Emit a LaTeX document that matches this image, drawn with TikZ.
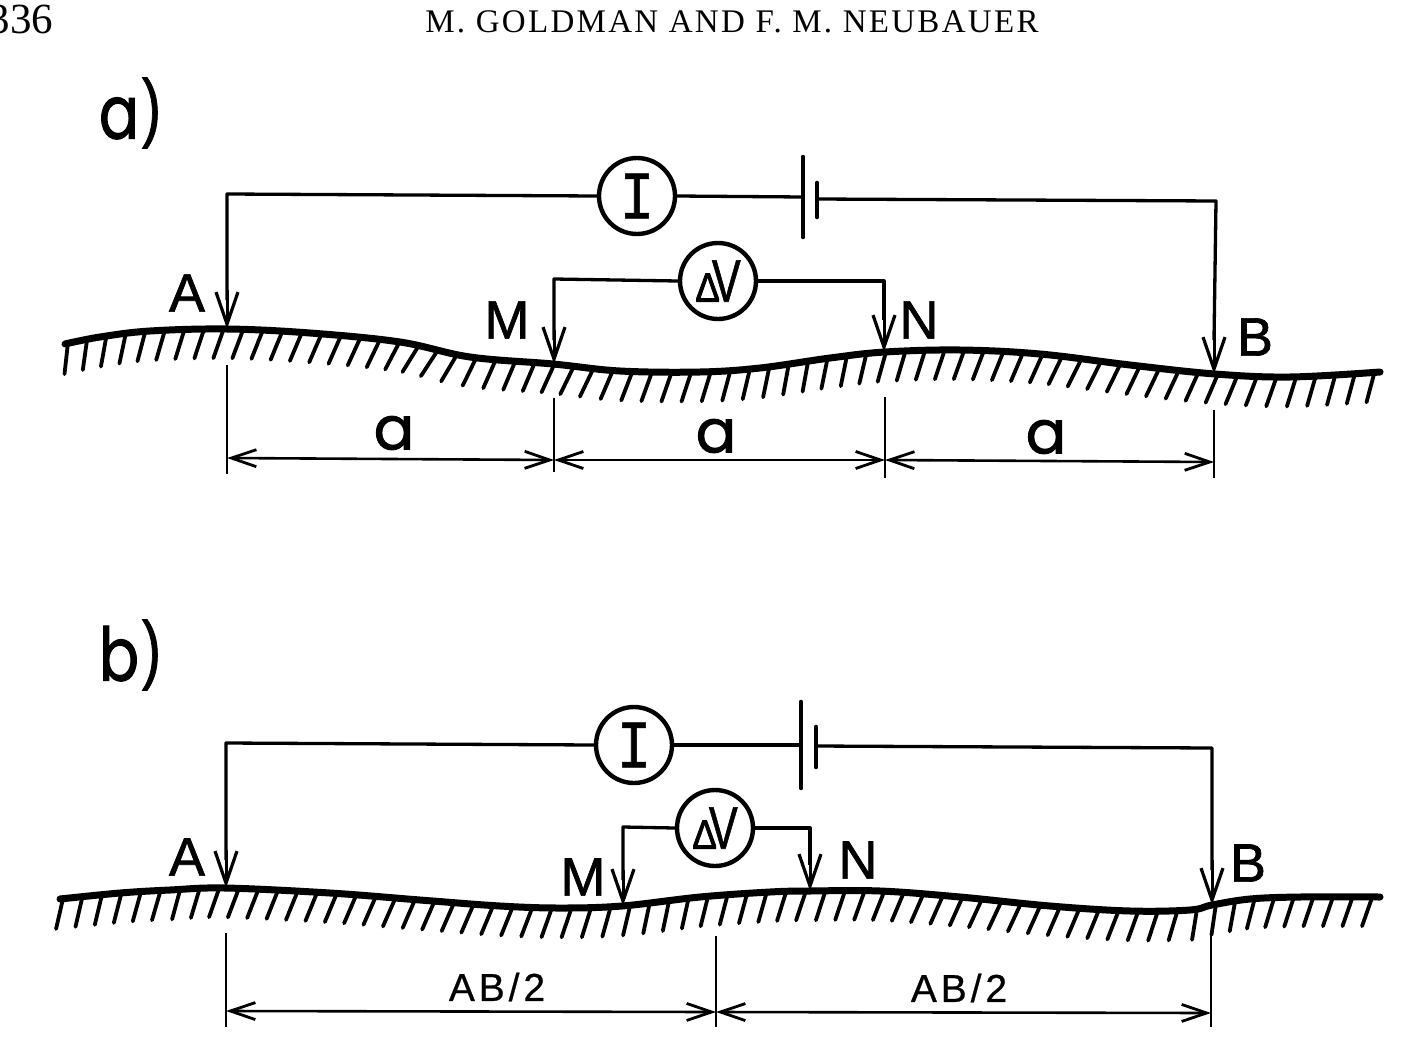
\documentclass[tikz,border=0pt]{standalone}
\usepackage{fontspec}
\usepackage{graphicx}
\setmainfont{Liberation Sans}
\newfontfamily\serifface{Liberation Serif}
\newfontfamily\headface[LetterSpace=7]{Liberation Serif}
\newfontfamily\monoface[FakeBold=1]{Liberation Mono}
\newfontfamily\roundface[FakeBold=1.5]{Poppins}
\newfontfamily\labelface[FakeBold=1.2]{Liberation Sans}
\newfontfamily\deltaface[FakeBold=2]{Liberation Sans}
\newfontfamily\abface[LetterSpace=10,FakeBold=0.6]{Liberation Sans}
\newcommand{\deltaV}{{\deltaface\fontsize{41}{41}\selectfont\scalebox{.9}[1]{Δ}}\kern-8pt{\labelface\fontsize{60}{60}\selectfont\scalebox{.72}[1]{V}}}
\newcommand{\panelmark}[1]{{\roundface\fontsize{74}{74}\selectfont\scalebox{.8}[1]{#1}}\kern3pt{\labelface\fontsize{76}{76}\selectfont\raisebox{6pt}{\scalebox{.75}[1]{)}}}}
\newcommand{\currentmark}{\monoface\fontsize{68}{68}\selectfont\scalebox{.85}[1]{I}}
\usetikzlibrary{arrows.meta,decorations.markings}
\tikzset{
  wire/.style={line width=3.3pt,line join=round},
  probe/.style={line width=3pt,-{Straight Barb[length=32pt,width=22pt,line width=3.2pt]}},
  dim/.style={line width=2.6pt,{Straight Barb[length=25pt,width=17pt,line width=2.8pt]}-{Straight Barb[length=25pt,width=17pt,line width=2.8pt]}},
  tick/.style={line width=2.6pt},
  meter/.style={circle,draw,line width=4.4pt,minimum size=76pt,inner sep=0pt},
  plate/.style={line width=4.6pt,line cap=round},
  groundline/.style={line width=7pt,line cap=round},
  hatch/.style={decorate,decoration={markings,mark=between positions 3pt and -2pt step 19.6pt with {\draw[line width=3.8pt,line cap=round] (0,0) -- (109:31);}}},
  letter/.style={font=\labelface\fontsize{54}{54}\selectfont,inner sep=0pt},
  dimlabel/.style={font=\roundface\fontsize{60}{60}\selectfont,inner sep=0pt},
  ablabel/.style={font=\abface\fontsize{39}{39}\selectfont,inner sep=0pt},
  panel/.style={inner sep=0pt},
}
\begin{document}
\begin{tikzpicture}[x=1pt,y=-1pt]
\useasboundingbox (0,0) rectangle (1421,1041);
\clip (0,0) rectangle (1421,1041);
\fill[white] (0,0) rectangle (1421,1041);
\node[font=\serifface\fontsize{43}{43}\selectfont,inner sep=0pt] (page) at (21,19) {336};
\node[font=\headface\fontsize{33}{33}\selectfont,inner sep=0pt] (head) at (732,22) {M. GOLDMAN AND F. M. NEUBAUER};
% panel a
\node[panel] (pa) at (130,113) {\panelmark{a}};
\def\groundA{(65,344) (100,337) (150,331) (227,329) (310,333) (400,342) (470,357) (553,364) (620,371) (700,372) (760,368) (830,358) (885,352) (960,350) (1040,354) (1130,365) (1215,374) (1290,377) (1380,372)}
\path[hatch] plot[smooth,tension=0.6] coordinates {\groundA};
\draw[groundline] plot[smooth,tension=0.6] coordinates {\groundA};
\node[meter] (ia) at (637,196) {\currentmark};
\node[meter] (va) at (718,281) {\deltaV};
\coordinate (Aa) at (227,329); \coordinate (Ma) at (554,364);
\coordinate (Na) at (884,352); \coordinate (Ba) at (1214,374);
\coordinate (b1a) at (803,197); \coordinate (b2a) at (817,199);
\coordinate (b1at) at (803,157); \coordinate (b1ab) at (803,237);
\coordinate (b2at) at (817,183); \coordinate (b2ab) at (817,217);
\draw[plate] (b1at) -- (b1ab);
\draw[plate] (b2at) -- (b2ab);
\draw[wire] (ia.east) -- (b1a);
\draw[wire] (b2a) -- (1216,201) -- (1214,340);
\draw[probe] (1214,330) -- (Ba);
\draw[wire] (ia.west) -- (227,194) -- (227,300);
\draw[probe] (227,290) -- (Aa);
\draw[wire] (va.west) -- (554,279) -- (554,340);
\draw[probe] (554,330) -- (Ma);
\draw[wire] (va.east) -- (884,281) -- (884,320);
\draw[probe] (884,310) -- (Na);
\node[letter] (la) at (187,293) {A};
\node[letter] (lm) at (507,320) {M};
\node[letter] (ln) at (919,320) {N};
\node[letter] (lb) at (1255,337) {B};
\draw[tick] (227,365) -- (227,474);
\draw[tick] (554,398) -- (554,472);
\draw[tick] (885,397) -- (885,478);
\draw[tick] (1214,410) -- (1214,478);
\coordinate (d1) at (227,458); \coordinate (d2) at (554,460);
\coordinate (d3) at (885,460); \coordinate (d4) at (1214,462);
\draw[dim] (d1) -- (d2);
\draw[dim] (d2) -- (d3);
\draw[dim] (d3) -- (d4);
\node[dimlabel] (a1) at (394,433) {a};
\node[dimlabel] (a2) at (716,436) {a};
\node[dimlabel] (a3) at (1046,437) {a};
% panel b
\node[panel] (pb) at (130,655) {\panelmark{b}};
\def\groundB{(60,899) (120,893) (170,890) (225,888) (330,893) (420,900) (500,906) (560,908) (622,906) (700,897) (770,892) (810,891) (880,891) (960,897) (1050,906) (1130,911) (1190,910) (1212,905) (1250,899) (1300,897) (1380,897)}
\path[hatch] plot[smooth,tension=0.6] coordinates {\groundB};
\draw[groundline] plot[smooth,tension=0.6] coordinates {\groundB};
\node[meter] (ib) at (634,745) {\currentmark};
\node[meter] (vb) at (715,828) {\deltaV};
\coordinate (Ab) at (226,888); \coordinate (Mb) at (623,906);
\coordinate (Nb) at (810,891); \coordinate (Bb) at (1212,905);
\coordinate (b1b) at (801,745); \coordinate (b2b) at (816,746);
\coordinate (b1bt) at (801,702); \coordinate (b1bb) at (801,788);
\coordinate (b2bt) at (816,727); \coordinate (b2bb) at (816,767);
\draw[plate] (b1bt) -- (b1bb);
\draw[plate] (b2bt) -- (b2bb);
\draw[wire] (ib.east) -- (b1b);
\draw[wire] (b2b) -- (1212,748) -- (1212,870);
\draw[probe] (1212,860) -- (Bb);
\draw[wire] (ib.west) -- (226,743) -- (226,860);
\draw[probe] (226,850) -- (Ab);
\draw[wire] (vb.west) -- (623,827) -- (623,880);
\draw[probe] (623,870) -- (Mb);
\draw[wire] (vb.east) -- (810,828) -- (810,865);
\draw[probe] (810,855) -- (Nb);
\node[letter] (la2) at (187,857) {A};
\node[letter] (lm2) at (583,877) {M};
\node[letter] (ln2) at (858,860) {N};
\node[letter] (lb2) at (1248,863) {B};
\draw[tick] (226,933) -- (226,1027);
\draw[tick] (716,936) -- (716,1027);
\draw[tick] (1211,935) -- (1211,1027);
\coordinate (e1) at (226,1011); \coordinate (e2) at (716,1012); \coordinate (e3) at (1211,1013);
\draw[dim] (e1) -- (e2);
\draw[dim] (e2) -- (e3);
\node[ablabel] (ab1) at (497,987) {AB/2};
\node[ablabel] (ab2) at (959,988) {AB/2};
\end{tikzpicture}
\end{document}
